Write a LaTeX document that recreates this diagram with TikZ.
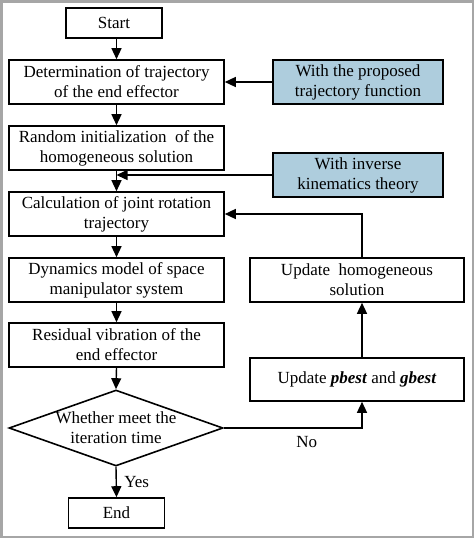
\documentclass[tikz,border=0pt]{standalone}
\usepackage{fontspec}
\setmainfont{Liberation Serif}
\usetikzlibrary{calc}
\usetikzlibrary{shapes,arrows.meta}
\definecolor{infoblue}{RGB}{174,205,221}

\tikzset{
  stepbox/.style={draw, line width=1.6pt, minimum width=215pt, minimum height=44pt, align=center, inner sep=0pt},
  infobox/.style={stepbox, fill=infoblue, minimum width=170pt},
  termbox/.style={stepbox, minimum width=96pt, minimum height=30pt},
  decision/.style={draw, diamond, line width=1.6pt, minimum width=214pt, minimum height=76pt, inner sep=0pt},
  arr/.style={line width=1.4pt, -{Triangle[length=11pt,width=10pt]}}
}

\begin{document}
\begin{tikzpicture}[x=1pt, y=-1pt, font=\fontsize{17}{20}\selectfont]
\useasboundingbox (0,0) rectangle (474,538);
% frame
\draw [gray!70, line width=2.5pt] (1.25,1.25) rectangle (472.75,536.75);

% main column
\node [termbox] (start) at (114,23) {Start};
\node [stepbox] (det) at (116.5,82) {Determination of trajectory\\of the end effector};
\node [stepbox] (rand) at (116.5,148) {Random initialization\ \ of the\\homogeneous solution};
\node [stepbox] (calc) at (116.5,214) {Calculation of joint rotation\\trajectory};
\node [stepbox] (dyn) at (116.5,280) {Dynamics model of space\\manipulator system};
\node [stepbox] (res) at (116.5,345) {Residual vibration of the\\end effector};
\node [decision, label={[align=center]center:Whether meet the\\iteration time}] (dec) at (116,428) {};
\node [termbox] (end) at (116.5,513) {End};

% side inputs
\node [infobox] (prop) at (358,82) {With the proposed\\trajectory function};
\node [infobox] (inv) at (358,175) {With inverse\\kinematics theory};

% update loop
\node [stepbox, minimum width=214pt] (hom) at (357,280) {Update\ \ homogeneous\\solution};
\node [stepbox, minimum width=214pt, minimum height=43pt] (pb) at (357,379.5) {Update \textbf{\textit{pbest}} and \textbf{\textit{gbest}}};

% connectors
\draw [arr] (start.south -| det.north) -- (det.north);
\draw [arr] (prop.west) -- (det.east);
\draw [arr] (det.south) -- (rand.north);
\draw [arr] (rand.south) -- (calc.north);
\draw [arr] (inv.west) -- (inv.west -| rand.south);
\draw [arr] (calc.south) -- (dyn.north);
\draw [arr] (dyn.south) -- (res.north);
\draw [arr] (res.south) -- (dec.north);
\draw [arr] (dec.south) -- (end.north) node [pos=.5, right=4pt] {Yes};
\draw [arr] (dec.east) -| ([xshift=5pt]pb.south) node [pos=.3, below=4pt] {No};
\draw [arr] ([xshift=5pt]pb.north) -- ([xshift=5pt]hom.south);
\draw [arr] ([xshift=5pt]hom.north) |- (calc.east);
\end{tikzpicture}
\end{document}
